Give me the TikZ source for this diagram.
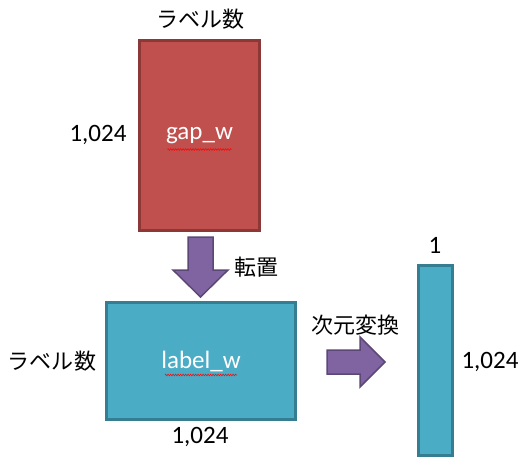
\documentclass[tikz,border=0pt]{standalone}
\usepackage{fontspec}
\setmainfont{Carlito}
\newfontfamily\jp{Noto Sans CJK JP}
\usetikzlibrary{decorations.pathmorphing}
\definecolor{redfill}{HTML}{C0504D}
\definecolor{redline}{HTML}{8C3836}
\definecolor{tealfill}{HTML}{4BACC6}
\definecolor{tealline}{HTML}{357D91}
\definecolor{arrowfill}{HTML}{8064A2}
\definecolor{arrowline}{HTML}{5C4776}
\begin{document}
\begin{tikzpicture}[x=1pt, y=-1pt, font=\fontsize{25}{30}\selectfont,
  box/.style={draw, rectangle, line width=3pt, inner sep=0pt, text=white},
  redbox/.style={box, fill=redfill, draw=redline},
  tealbox/.style={box, fill=tealfill, draw=tealline},
  jptext/.style={font=\fontsize{22}{26}\selectfont\jp},
  blockarrow/.style={fill=arrowfill, draw=arrowline, line width=1.5pt, line join=miter},
  squiggle/.style={draw=red, line width=0.5pt, decorate, decoration={zigzag, amplitude=0.9pt, segment length=2.5pt}}]
\useasboundingbox (0,0) rectangle (527,473);

\node (gap) at (199.5,135.5) [redbox, minimum width=120pt, minimum height=190pt] {gap\_w};
\node (label) at (201,361) [tealbox, minimum width=189pt, minimum height=117pt] {label\_w};
\node (vec) at (435.5,360.5) [tealbox, minimum width=34pt, minimum height=190pt] {};

\node (gaptop) at (200,19) [jptext] {ラベル数};
\node (gapleft) at (98,135) {1,024};
\node (labelleft) at (52,361) [jptext] {ラベル数};
\node (labelbottom) at (200,437) {1,024};
\node (vectop) at (435,245) {1};
\node (vecright) at (490,362) {1,024};
\node (trans) at (256,267) [jptext] {転置};
\node (conv) at (355,325) [jptext] {次元変換};

\draw[squiggle] (gap.center) ++(-32,14) -- ++(64,0);
\draw[squiggle] (label.center) ++(-36,14) -- ++(72,0);

\draw[blockarrow] (188,237) -- (213,237) -- (213,270) -- (228,270) -- (200.5,297) -- (173,270) -- (188,270) -- cycle;
\draw[blockarrow] (327,350) -- (360,350) -- (360,337) -- (385,362) -- (360,387) -- (360,374) -- (327,374) -- cycle;
\end{tikzpicture}
\end{document}
